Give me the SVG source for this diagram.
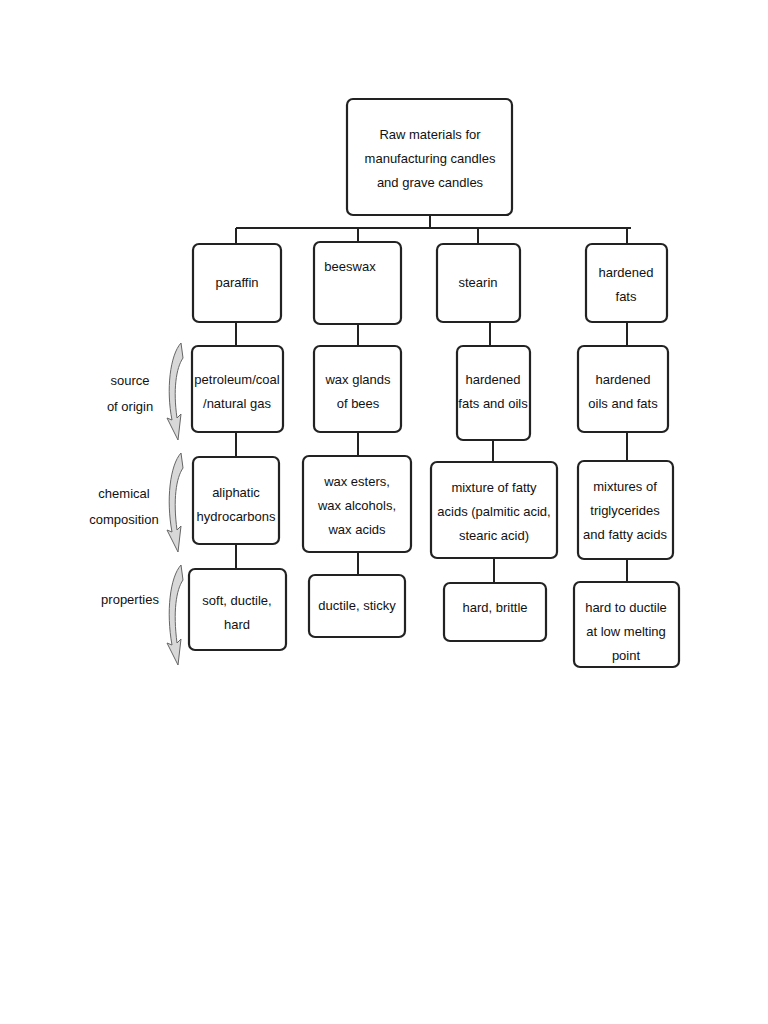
<svg xmlns="http://www.w3.org/2000/svg" width="768" height="1024" viewBox="0 0 768 1024">
<style>
.b{fill:#fff;stroke:#222;stroke-width:2.2}
.t{font-family:"Liberation Sans",Arial,sans-serif;font-size:13px;fill:#111;text-anchor:middle}
.l{stroke:#222;stroke-width:2;fill:none}
.a{fill:#d8d8d8;stroke:#666;stroke-width:1}
</style>
<rect width="768" height="1024" fill="#fff"/>
<g id="connectors">
<path class="l" d="M430 215V228M236 228H631M236 228V244M358 228V242M478 228V244M627 228V244"/>
<path class="l" d="M236 322V346M236 432V457M236 544V569"/>
<path class="l" d="M358 324V346M358 432V456M358 552V575"/>
<path class="l" d="M490 322V346M493 440V462M494 558V583"/>
<path class="l" d="M627 322V346M627 432V461M627 559V582"/>
</g>
<g id="arrows">
<path class="a" d="M181 343 C170 355 166 390 172 420 L167 418 L178 440 L181 414 L177 418 C173 390 176 368 183 358 Z"/>
<path class="a" d="M181 453 C170 465 166 500 172 532 L167 530 L178 552 L181 526 L177 530 C173 500 176 478 183 468 Z"/>
<path class="a" d="M181 565 C170 577 166 612 172 645 L167 643 L178 665 L181 639 L177 643 C173 612 176 590 183 580 Z"/>
</g>
<g id="labels">
<text class="t" x="130" y="385">source</text><text class="t" x="130" y="411">of origin</text>
<text class="t" x="124" y="498">chemical</text><text class="t" x="124" y="524">composition</text>
<text class="t" x="130" y="604">properties</text>
</g>
<g id="root"><rect class="b" x="347" y="99" width="165" height="116" rx="6"/>
<text class="t" x="430" y="139">Raw materials for</text><text class="t" x="430" y="163">manufacturing candles</text><text class="t" x="430" y="187">and grave candles</text></g>
<g id="paraffin"><rect class="b" x="193" y="244" width="88" height="78" rx="6"/><text class="t" x="237" y="287">paraffin</text></g>
<g id="beeswax"><rect class="b" x="314" y="242" width="87" height="82" rx="6"/><text class="t" x="350" y="271">beeswax</text></g>
<g id="stearin"><rect class="b" x="437" y="244" width="83" height="78" rx="6"/><text class="t" x="478" y="287">stearin</text></g>
<g id="hardfats"><rect class="b" x="586" y="244" width="81" height="78" rx="6"/><text class="t" x="626" y="277">hardened</text><text class="t" x="626" y="301">fats</text></g>
<g id="petroleum"><rect class="b" x="192" y="346" width="91" height="86" rx="6"/><text class="t" x="237" y="384">petroleum/coal</text><text class="t" x="237" y="408">/natural gas</text></g>
<g id="glands"><rect class="b" x="314" y="346" width="87" height="86" rx="6"/><text class="t" x="358" y="384">wax glands</text><text class="t" x="358" y="408">of bees</text></g>
<g id="hfo"><rect class="b" x="457" y="346" width="73" height="94" rx="6"/><text class="t" x="493" y="384">hardened</text><text class="t" x="493" y="408">fats and oils</text></g>
<g id="hof"><rect class="b" x="578" y="346" width="90" height="86" rx="6"/><text class="t" x="623" y="384">hardened</text><text class="t" x="623" y="408">oils and fats</text></g>
<g id="aliphatic"><rect class="b" x="193" y="457" width="86" height="87" rx="6"/><text class="t" x="236" y="497">aliphatic</text><text class="t" x="236" y="521">hydrocarbons</text></g>
<g id="waxesters"><rect class="b" x="303" y="456" width="108" height="96" rx="6"/><text class="t" x="357" y="486">wax esters,</text><text class="t" x="357" y="510">wax alcohols,</text><text class="t" x="357" y="534">wax acids</text></g>
<g id="mixture"><rect class="b" x="431" y="462" width="126" height="96" rx="6"/><text class="t" x="494" y="492">mixture of fatty</text><text class="t" x="494" y="516">acids (palmitic acid,</text><text class="t" x="494" y="540">stearic acid)</text></g>
<g id="mixtures"><rect class="b" x="578" y="461" width="95" height="98" rx="6"/><text class="t" x="625" y="491">mixtures of</text><text class="t" x="625" y="515">triglycerides</text><text class="t" x="625" y="539">and fatty acids</text></g>
<g id="soft"><rect class="b" x="189" y="569" width="97" height="81" rx="6"/><text class="t" x="237" y="605">soft, ductile,</text><text class="t" x="237" y="629">hard</text></g>
<g id="sticky"><rect class="b" x="309" y="575" width="96" height="62" rx="6"/><text class="t" x="357" y="610">ductile, sticky</text></g>
<g id="brittle"><rect class="b" x="444" y="583" width="102" height="58" rx="6"/><text class="t" x="495" y="612">hard, brittle</text></g>
<g id="hardductile"><rect class="b" x="574" y="582" width="105" height="85" rx="6"/><text class="t" x="626" y="612">hard to ductile</text><text class="t" x="626" y="636">at low melting</text><text class="t" x="626" y="660">point</text></g>
</svg>
